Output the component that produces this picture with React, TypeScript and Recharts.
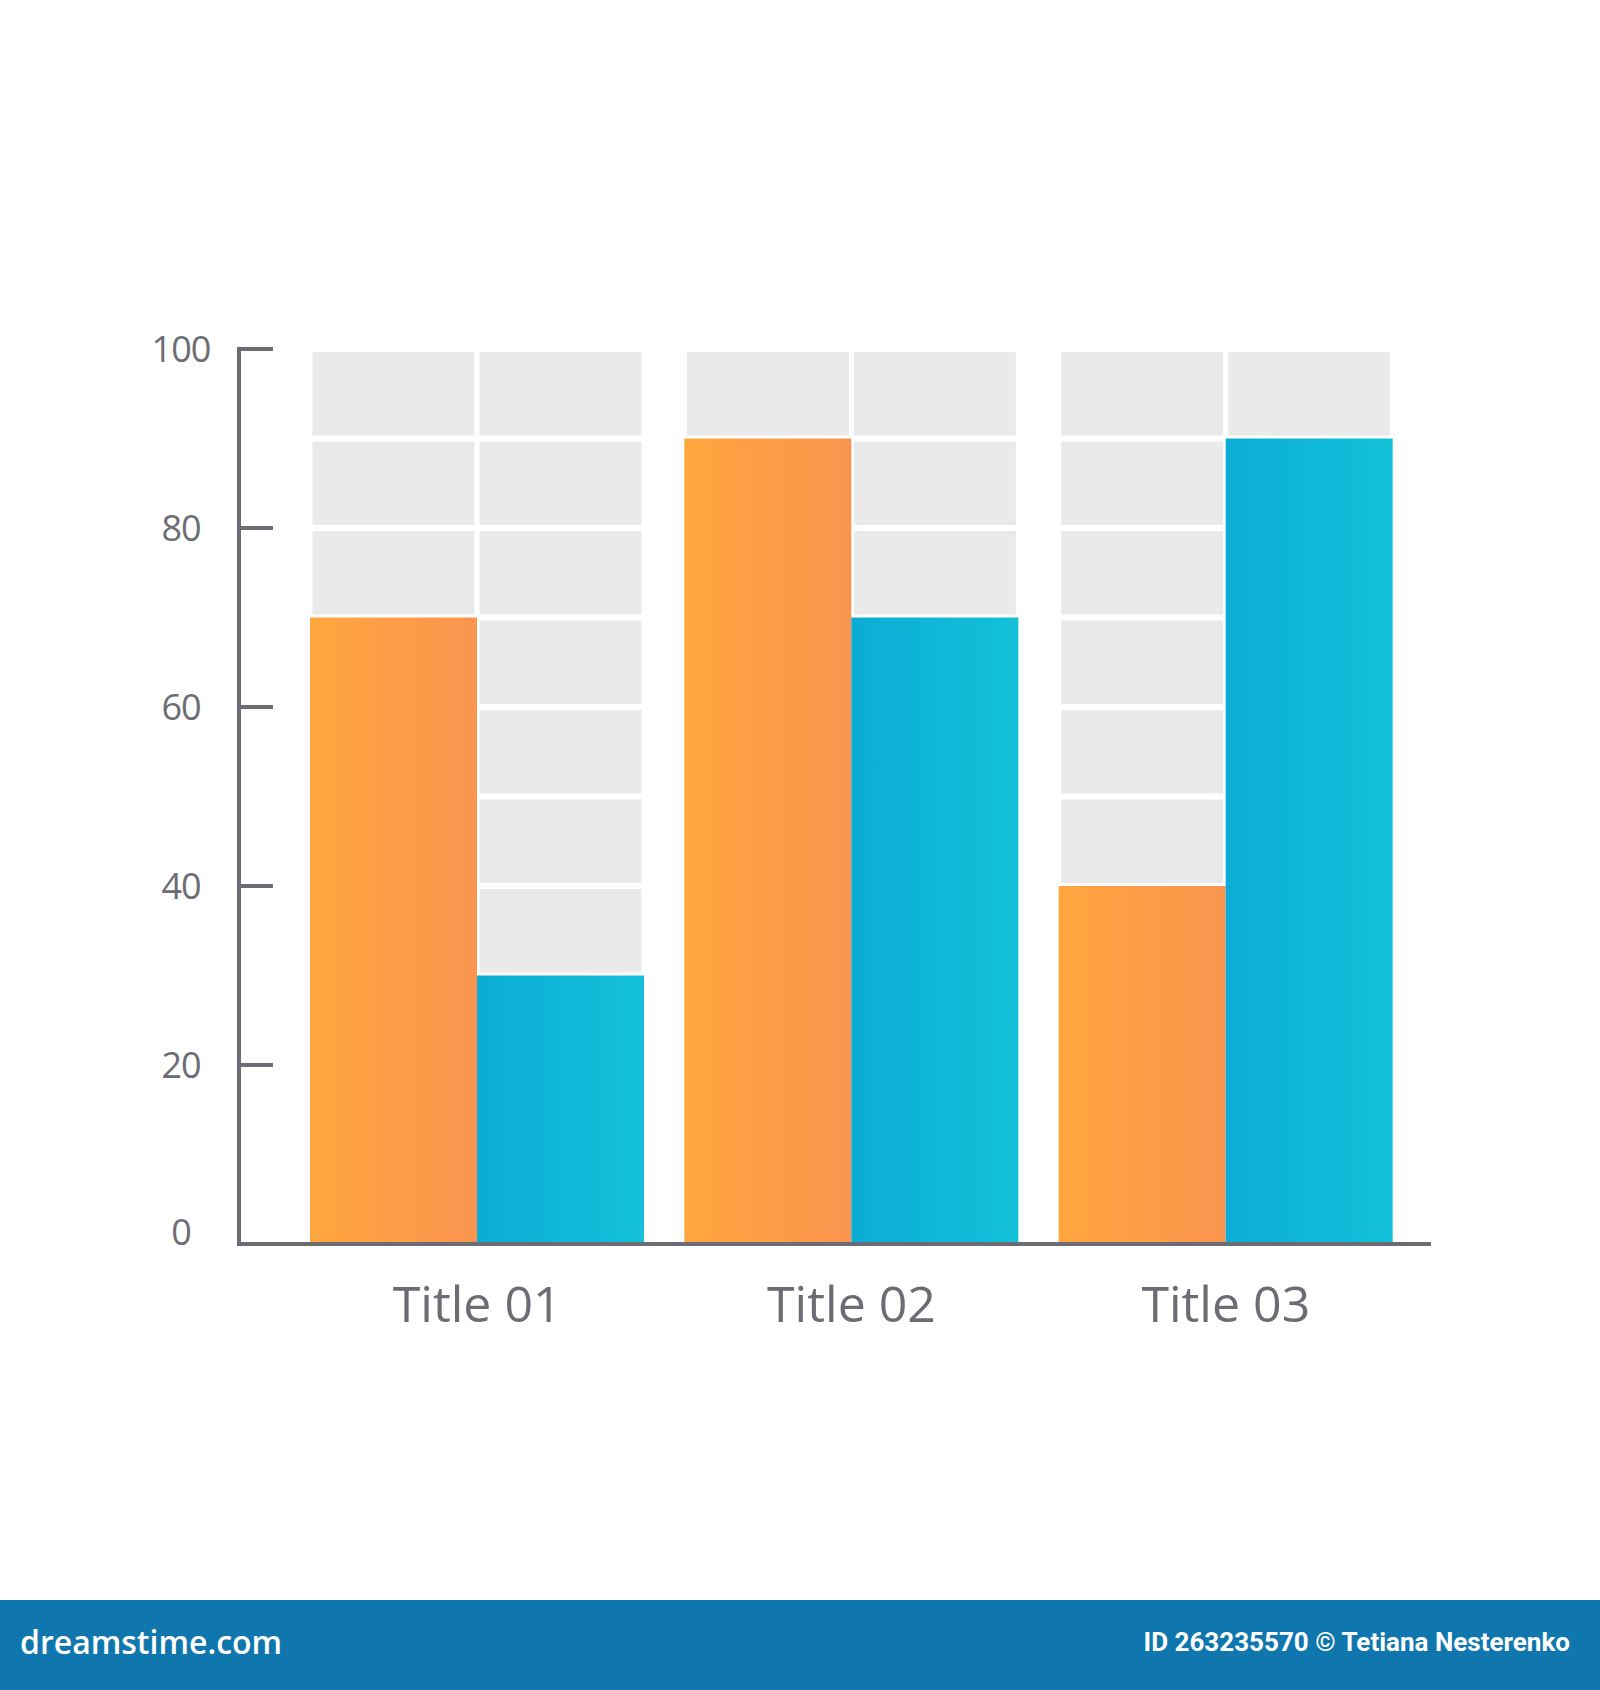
import React from "react";
import { BarChart, Bar, XAxis, YAxis } from "recharts";

const categories = ["Title 01", "Title 02", "Title 03"];
const orangeValues = [70, 90, 40];
const blueValues = [30, 70, 90];
const yTicks = [0, 20, 40, 60, 80, 100];
const cellRows = 10;

const data = categories.map((name, i) => ({
  name,
  orange: orangeValues[i],
  blue: blueValues[i],
}));

const AXIS = "#6C6C74";
const CELL = "#EAEAEA";

// grey backdrop split into rows of 10 units, white gaps between them
const renderCells = (props: any) => {
  const { x, y, width, height } = props;
  const step = height / cellRows;
  return (
    <g>
      {Array.from({ length: cellRows }, (_, i) => (
        <rect
          key={i}
          x={x + 2.5}
          y={y + i * step + 3}
          width={width - 5}
          height={step - 6}
          fill={CELL}
        />
      ))}
    </g>
  );
};

// tick marks point inward, labels are centred in a column left of the axis
const YTick = (props: any) => {
  const { x, y, payload } = props;
  const axisX = x + 28;
  const isZero = payload.value === 0;
  return (
    <g>
      {!isZero && (
        <line x1={axisX} x2={axisX + 34} y1={y} y2={y} stroke={AXIS} strokeWidth={4} />
      )}
      <text
        x={axisX - 58}
        y={isZero ? y - 12 : y}
        dy="0.36em"
        textAnchor="middle"
        fill={AXIS}
        fontSize={36}
        letterSpacing={-1}
        fontFamily="'Open Sans', sans-serif"
      >
        {payload.value}
      </text>
    </g>
  );
};

export default function App() {
  return (
    <div
      style={{
        position: "absolute",
        left: 0,
        top: 0,
        width: 1600,
        height: 1690,
        background: "#ffffff",
        overflow: "hidden",
      }}
    >
      <BarChart
        width={1600}
        height={1600}
        data={data}
        barSize={167}
        barGap={0}
        margin={{ top: 349, right: 169, bottom: 256, left: 0 }}
      >
        <defs>
          <linearGradient id="orangeGrad" x1="0" y1="0" x2="1" y2="0">
            <stop offset="0%" stopColor="#FFA63E" />
            <stop offset="100%" stopColor="#FA944F" />
          </linearGradient>
          <linearGradient id="blueGrad" x1="0" y1="0" x2="1" y2="0">
            <stop offset="0%" stopColor="#0BACD5" />
            <stop offset="100%" stopColor="#14C1D9" />
          </linearGradient>
        </defs>
        <XAxis
          dataKey="name"
          height={100}
          padding={{ left: 51, right: 18 }}
          axisLine={{ stroke: AXIS, strokeWidth: 4 }}
          tickLine={false}
          tickSize={0}
          tickMargin={42}
          tick={{
            fill: AXIS,
            fontSize: 50,
            fontFamily: "'Open Sans', sans-serif",
          }}
        />
        <YAxis
          width={239}
          domain={[0, 100]}
          ticks={yTicks}
          interval={0}
          axisLine={{ stroke: AXIS, strokeWidth: 4, strokeLinecap: "square" }}
          tickLine={false}
          tickSize={0}
          tickMargin={28}
          tick={<YTick />}
        />
        <Bar
          dataKey="orange"
          fill="url(#orangeGrad)"
          background={renderCells}
          isAnimationActive={false}
        />
        <Bar
          dataKey="blue"
          fill="url(#blueGrad)"
          background={renderCells}
          isAnimationActive={false}
        />
      </BarChart>
      <div
        style={{
          position: "absolute",
          left: 0,
          top: 1600,
          width: 1600,
          height: 90,
          background: "#1077AE",
          color: "#ffffff",
        }}
      >
        <div
          style={{
            position: "absolute",
            left: 20,
            top: 20,
            fontFamily: "'Open Sans', sans-serif",
            fontWeight: 600,
            fontSize: 32,
            lineHeight: "44px",
          }}
        >
          dreamstime.com
        </div>
        <div
          style={{
            position: "absolute",
            right: 30,
            top: 27,
            fontFamily: "Roboto, sans-serif",
            fontWeight: 700,
            fontSize: 26,
            lineHeight: "30px",
          }}
        >
          ID 263235570 © Tetiana Nesterenko
        </div>
      </div>
    </div>
  );
}
